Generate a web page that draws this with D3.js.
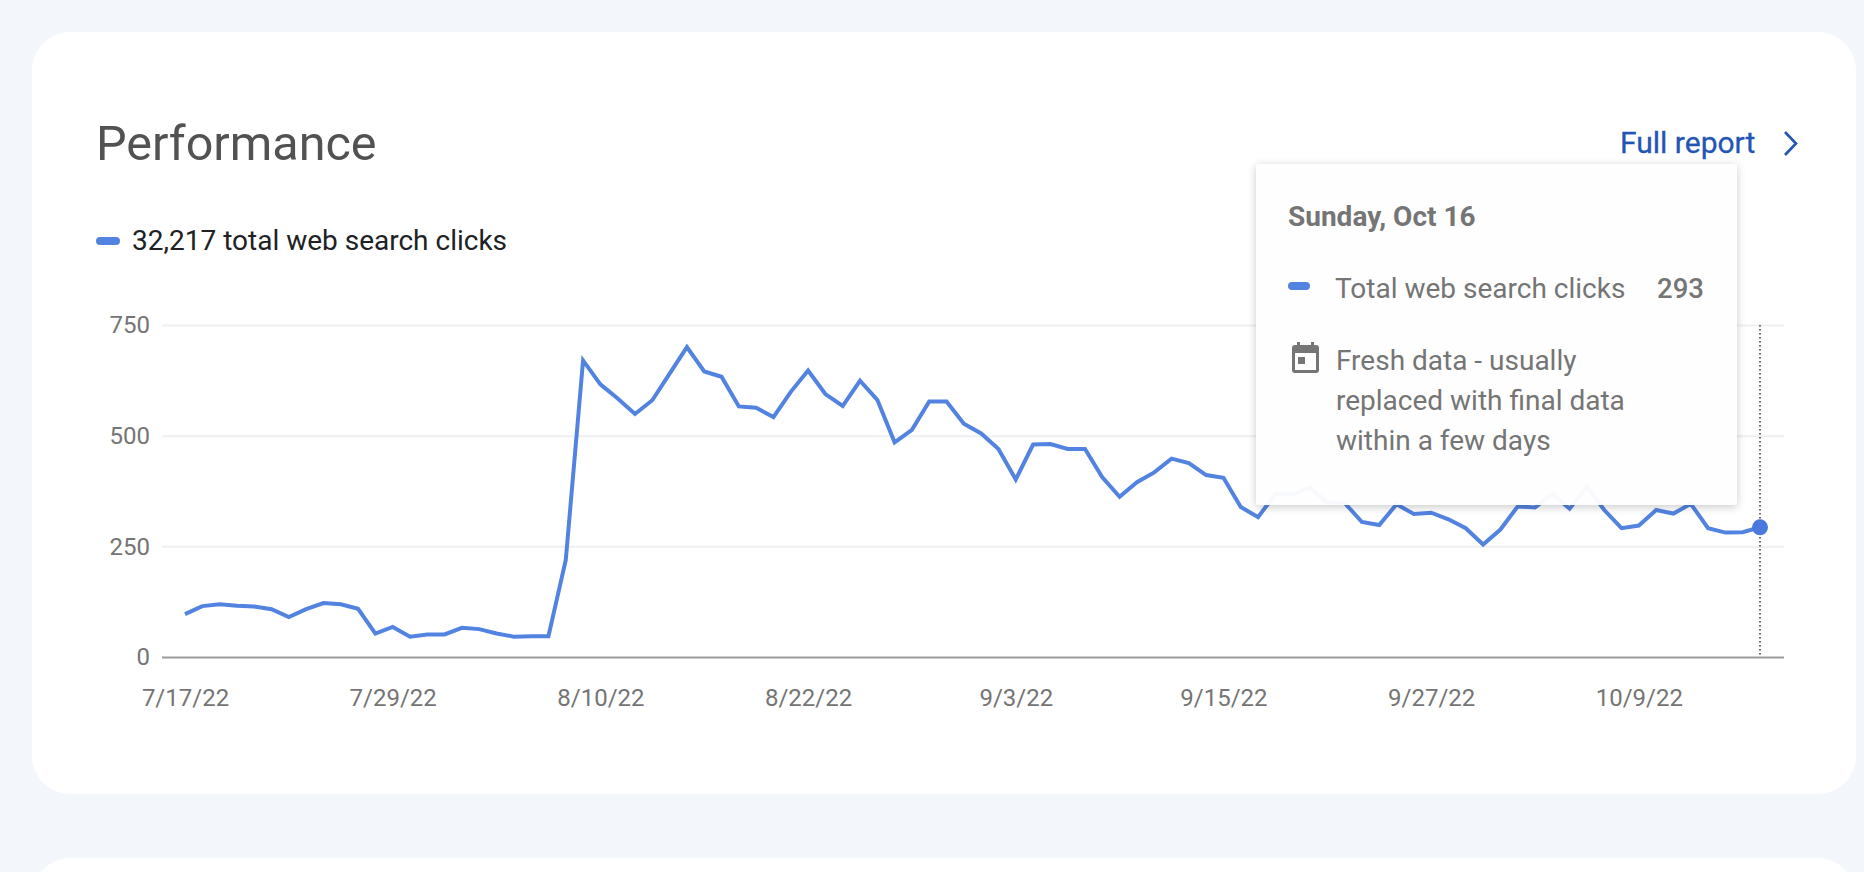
<!DOCTYPE html>
<html><head><meta charset="utf-8">
<script src="https://cdnjs.cloudflare.com/ajax/libs/d3/7.8.5/d3.min.js"></script>
<style>
html,body{margin:0;padding:0;background:#f3f6fb;overflow:hidden}
svg{display:block}
text{font-family:Roboto,sans-serif}
.domain{display:none}
</style></head><body>
<svg id="c" width="1864" height="872"></svg>
<script>
const startDate = "2022-07-17";
const clicks = [97,115,119,116,114,108,90,108,122,119,109,53,68,46,51,51,66,63,53,46,47,47,219,670,616,584,549,580,640,700,
645,633,566,563,542,599,647,594,567,624,581,485,513,577,577,527,505,470,401,480,481,470,470,406,362,395,417,448,438,411,405,339,316,
368,367,383,349,348,305,298,345,323,326,311,291,254,288,340,338,368,335,385,332,291,297,332,324,346,291,281,282,293];
const xTickLabels = ["7/17/22","7/29/22","8/10/22","8/22/22","9/3/22","9/15/22","9/27/22","10/9/22"];
const yTicks = [0,250,500,750];
const title = "Performance";
const legendLabel = "32,217 total web search clicks";
const linkLabel = "Full report";
const tipDate = "Sunday, Oct 16";
const tipSeries = "Total web search clicks";
const tipValue = "293";
const tipNote = ["Fresh data - usually","replaced with final data","within a few days"];

const blue="#5383e0", grey="#757575";
const svg=d3.select("#c");
const parse=d3.utcParse("%Y-%m-%d");
const d0=parse(startDate);
const data=clicks.map((v,i)=>({date:d3.utcDay.offset(d0,i),v}));
const x=d3.scaleUtc().domain([d0,data[data.length-1].date]).range([185,1760]);
const y=d3.scaleLinear().domain([0,750]).range([657,325]);

// cards
svg.append("rect").attr("x",32).attr("y",32).attr("width",1824).attr("height",762).attr("rx",38).attr("fill","#fff");
svg.append("rect").attr("x",32).attr("y",858).attr("width",1824).attr("height",80).attr("rx",38).attr("fill","#fff");

// shadow filter
const f=svg.append("defs").append("filter").attr("id","sh").attr("x","-10%").attr("y","-10%").attr("width","120%").attr("height","125%");
f.append("feDropShadow").attr("dx",0).attr("dy",2).attr("stdDeviation",4).attr("flood-color","#000").attr("flood-opacity",0.22);

// title + legend
svg.append("text").attr("x",96).attr("y",160).attr("font-size",48.5).attr("font-weight",400).attr("fill","#525252").text(title);
svg.append("rect").attr("x",96).attr("y",237).attr("width",24).attr("height",8).attr("rx",4).attr("fill",blue);
svg.append("text").attr("x",132).attr("y",250).attr("font-size",28).attr("fill","#202124").text(legendLabel);

// link
svg.append("text").attr("x",1620).attr("y",153).attr("font-size",30).attr("font-weight",400).attr("fill","#2355b5").attr("stroke","#2355b5").attr("stroke-width",0.3).text(linkLabel);
svg.append("path").datum([[0,0],[11,11.5],[0,23]])
  .attr("transform","translate(1785,132)").attr("d",d3.line()).attr("fill","none").attr("stroke","#2355b5").attr("stroke-width",2.6);

// axes
const yAxis=d3.axisLeft(y).tickValues(yTicks).tickSize(0).tickPadding(12);
const gy=svg.append("g").attr("transform","translate(162,0)").call(yAxis);
gy.selectAll("text").attr("font-size",24).attr("fill",grey).style("font-family","Roboto,sans-serif");
gy.selectAll(".tick").append("line").attr("x2",1622).attr("stroke",d=>d===0?"#999":"#eeeff2").attr("stroke-width",2);

const tickDates=xTickLabels.map((_,i)=>data[i*12].date);
const xAxis=d3.axisBottom(x).tickValues(tickDates).tickSize(0).tickPadding(0)
  .tickFormat((d,i)=>xTickLabels[i]);
const gx=svg.append("g").attr("transform","translate(0,657)").call(xAxis);
gx.selectAll("text").attr("y",49).attr("dy",0).attr("font-size",24).attr("fill",grey).style("font-family","Roboto,sans-serif");

// hover rule
const last=data[data.length-1];
svg.append("line").attr("x1",x(last.date)).attr("x2",x(last.date)).attr("y1",y(750)).attr("y2",y(0))
  .attr("stroke","#444").attr("stroke-width",1.6).attr("stroke-dasharray","1.6 2.4");

// series
svg.append("path").datum(data).attr("fill","none").attr("stroke",blue).attr("stroke-width",4).attr("stroke-linejoin","miter")
  .attr("d",d3.line().x(d=>x(d.date)).y(d=>y(d.v)));
svg.append("circle").attr("cx",x(last.date)).attr("cy",y(last.v)).attr("r",8).attr("fill","#4a78dc");

// tooltip
svg.append("rect").attr("x",1256).attr("y",164).attr("width",481).attr("height",341).attr("rx",3)
  .attr("fill","#fff").attr("fill-opacity",0.95).attr("filter","url(#sh)");
svg.append("text").attr("x",1288).attr("y",226).attr("font-size",28).attr("font-weight",700).attr("fill",grey).text(tipDate);
svg.append("rect").attr("x",1288).attr("y",282).attr("width",22).attr("height",8).attr("rx",4).attr("fill",blue);
svg.append("text").attr("x",1335).attr("y",298).attr("font-size",28).attr("fill",grey).text(tipSeries);
svg.append("text").attr("x",1704).attr("y",298).attr("text-anchor","end").attr("font-size",27.5).attr("font-weight",500).attr("fill",grey).text(tipValue);
tipNote.forEach((t,i)=>svg.append("text").attr("x",1336).attr("y",370+i*40).attr("font-size",28).attr("fill",grey).text(t));
// calendar icon
const ic=svg.append("g").attr("transform","translate(1292,342)").attr("fill",grey);
ic.append("path").attr("fill-rule","evenodd").attr("d","M5 0h3v3h11V0h3v3h2a3 3 0 0 1 3 3v22a3 3 0 0 1-3 3H3a3 3 0 0 1-3-3V6a3 3 0 0 1 3-3h2zM3 11v17h21V11z");
ic.append("rect").attr("x",6).attr("y",15).attr("width",7).attr("height",7);
</script>
</body></html>
